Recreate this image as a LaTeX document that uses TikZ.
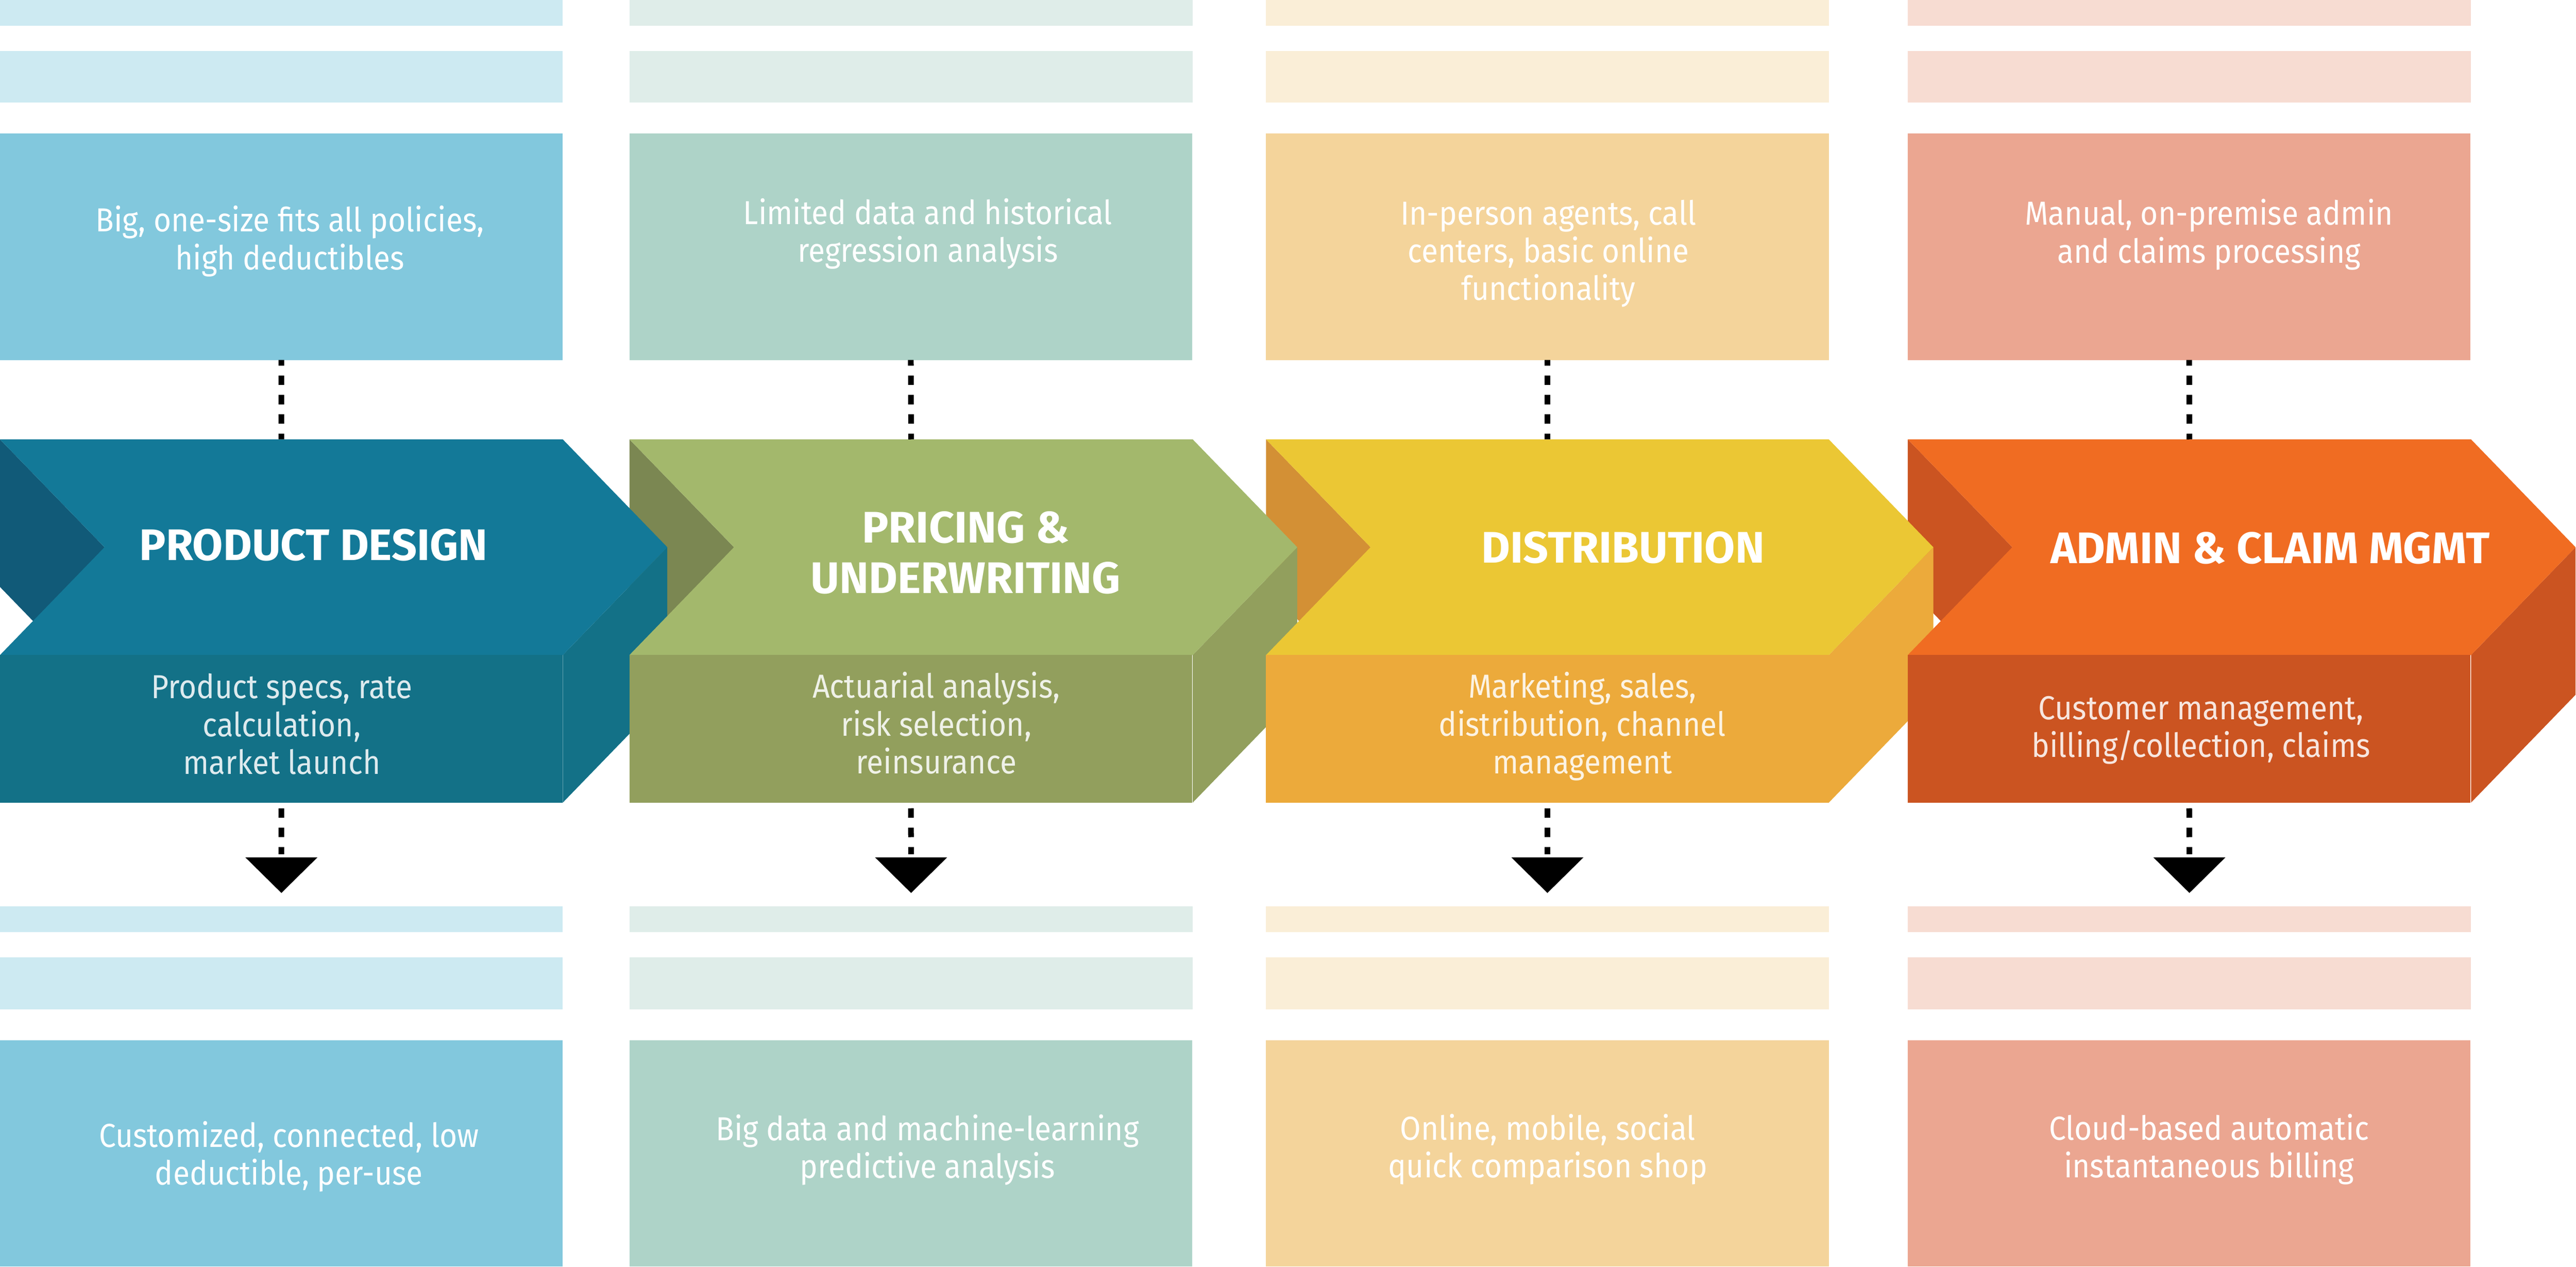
\documentclass[tikz,border=0pt]{standalone}
\usepackage{fontspec}
\setmainfont{Fira Sans}[FakeStretch=0.91]
\newfontfamily\headfont{Fira Sans}
\usepackage{tikz}

\definecolor{tealTop}{HTML}{137998}
\definecolor{tealFront}{HTML}{137187}
\definecolor{tealWall}{HTML}{115A78}
\definecolor{tealBox}{HTML}{82C8DD}
\definecolor{tealPale}{HTML}{CDEAF2}
\definecolor{greenTop}{HTML}{A3B86C}
\definecolor{greenFront}{HTML}{929F5D}
\definecolor{greenWall}{HTML}{7B8752}
\definecolor{greenBox}{HTML}{AED3C8}
\definecolor{greenPale}{HTML}{DFEDE9}
\definecolor{yellowTop}{HTML}{EBC734}
\definecolor{yellowFront}{HTML}{ECAA3B}
\definecolor{yellowWall}{HTML}{D39035}
\definecolor{yellowBox}{HTML}{F4D49B}
\definecolor{yellowPale}{HTML}{FAEED7}
\definecolor{orangeTop}{HTML}{F06C22}
\definecolor{orangeFront}{HTML}{CB5421}
\definecolor{orangeBox}{HTML}{EBA691}
\definecolor{orangePale}{HTML}{F7DCD2}

\tikzset{
  panel/.style={inner sep=0pt, outer sep=0pt, minimum width=11.9cm, anchor=south west},
  boxtext/.style={font=\fontsize{20pt}{22.76pt}\selectfont, text=white,
    align=center, inner sep=0pt, anchor=base},
  fronttext/.style={boxtext, text opacity=0.86},
  titletext/.style={font=\headfont\fontsize{26.6pt}{30.16pt}\selectfont\bfseries, text=white,
    align=center, inner sep=0pt, anchor=base},
  dotline/.style={line width=0.12cm, dash pattern=on 0.2cm off 0.21cm},
}

\begin{document}
\begin{tikzpicture}

    \useasboundingbox (0,0) rectangle (54.47,26.78);

    % pale bands and boxes, top row
    \fill [tealPale] (0,26.24) rectangle (11.90,26.78);
    \fill [tealPale] (0,24.61) rectangle (11.90,25.70);
    \fill [greenPale] (13.31,26.24) rectangle (25.22,26.78);
    \fill [greenPale] (13.31,24.61) rectangle (25.22,25.70);
    \fill [yellowPale] (26.77,26.24) rectangle (38.67,26.78);
    \fill [yellowPale] (26.77,24.61) rectangle (38.67,25.70);
    \fill [orangePale] (40.34,26.24) rectangle (52.25,26.78);
    \fill [orangePale] (40.34,24.61) rectangle (52.25,25.70);

    \node [panel, fill=tealBox, minimum height=4.79cm] (old1) at (0,19.17) {};
    \node [panel, fill=greenBox, minimum height=4.79cm] (old2) at (13.31,19.17) {};
    \node [panel, fill=yellowBox, minimum height=4.79cm] (old3) at (26.77,19.17) {};
    \node [panel, fill=orangeBox, minimum height=4.79cm] (old4) at (40.34,19.17) {};

    % pale bands and boxes, bottom row
    \fill [tealPale] (0,7.07) rectangle (11.90,7.62);
    \fill [tealPale] (0,5.44) rectangle (11.90,6.54);
    \fill [greenPale] (13.31,7.07) rectangle (25.22,7.62);
    \fill [greenPale] (13.31,5.44) rectangle (25.22,6.54);
    \fill [yellowPale] (26.77,7.07) rectangle (38.67,7.62);
    \fill [yellowPale] (26.77,5.44) rectangle (38.67,6.54);
    \fill [orangePale] (40.34,7.07) rectangle (52.25,7.62);
    \fill [orangePale] (40.34,5.44) rectangle (52.25,6.54);

    \node [panel, fill=tealBox, minimum height=4.79cm] (new1) at (0,0) {};
    \node [panel, fill=greenBox, minimum height=4.79cm] (new2) at (13.31,0) {};
    \node [panel, fill=yellowBox, minimum height=4.79cm] (new3) at (26.77,0) {};
    \node [panel, fill=orangeBox, minimum height=4.79cm] (new4) at (40.34,0) {};

    % inner walls of the notches
    \fill [tealWall] (0,17.49) -- (2.21,15.21) -- (2.21,12.09) -- (0,14.37) -- cycle;
    \fill [greenWall] (13.31,17.49) -- (15.52,15.21) -- (15.52,12.09) -- (13.31,14.37) -- cycle;
    \fill [yellowWall] (26.77,17.49) -- (28.98,15.21) -- (28.98,12.09) -- (26.77,14.37) -- cycle;
    \fill [orangeFront] (40.34,17.49) -- (42.55,15.21) -- (42.55,12.09) -- (40.34,14.37) -- cycle;

    % side faces
    \fill [tealFront] (11.90,12.93) -- (14.11,15.21) -- (14.11,12.09) -- (11.90,9.81) -- cycle;
    \fill [greenFront] (25.22,12.93) -- (27.43,15.21) -- (27.43,12.09) -- (25.22,9.81) -- cycle;
    \fill [yellowFront] (38.67,12.93) -- (40.88,15.21) -- (40.88,12.09) -- (38.67,9.81) -- cycle;
    \fill [orangeFront] (52.25,12.93) -- (54.46,15.21) -- (54.46,12.09) -- (52.25,9.81) -- cycle;

    % chevron tops and fronts
    \fill [tealTop] (0,17.49) -- (11.90,17.49) -- (14.11,15.21) -- (11.90,12.93)
        -- (0,12.93) -- (2.21,15.21) -- cycle;
    \fill [greenTop] (13.31,17.49) -- (25.22,17.49) -- (27.43,15.21) -- (25.22,12.93)
        -- (13.31,12.93) -- (15.52,15.21) -- cycle;
    \fill [yellowTop] (26.77,17.49) -- (38.67,17.49) -- (40.88,15.21) -- (38.67,12.93)
        -- (26.77,12.93) -- (28.98,15.21) -- cycle;
    \fill [orangeTop] (40.34,17.49) -- (52.25,17.49) -- (54.46,15.21) -- (52.25,12.93)
        -- (40.34,12.93) -- (42.55,15.21) -- cycle;

    \node [panel, fill=tealFront, minimum height=3.12cm] (step1) at (0,9.81) {};
    \node [panel, fill=greenFront, minimum height=3.12cm] (step2) at (13.31,9.81) {};
    \node [panel, fill=yellowFront, minimum height=3.12cm] (step3) at (26.77,9.81) {};
    \node [panel, fill=orangeFront, minimum height=3.12cm] (step4) at (40.34,9.81) {};

    \coordinate (head1) at (5.95,17.49);
    \coordinate (head2) at (19.265,17.49);
    \coordinate (head3) at (32.72,17.49);
    \coordinate (head4) at (46.295,17.49);

    % texts (base = last line)
    \node [boxtext] (oldtxt1) at (6.13,21.08) {Big, one-size fits all policies,\\high deductibles};
    \node [boxtext] (oldtxt2) at (19.62,21.24) {Limited data and historical\\regression analysis};
    \node [boxtext] (oldtxt3) at (32.74,20.43) {In-person agents, call\\centers, basic online\\functionality};
    \node [boxtext] (oldtxt4) at (46.71,21.22) {Manual, on-premise admin\\and claims processing};

    \node [titletext] (name1) at (6.63,14.93) {PRODUCT DESIGN};
    \node [titletext] (name2) at (20.42,14.24) {PRICING \&\\UNDERWRITING};
    \node [titletext] (name3) at (34.32,14.88) {DISTRIBUTION};
    \node [titletext] (name4) at (48.00,14.87) {ADMIN \& CLAIM MGMT};

    \node [fronttext] (task1) at (5.96,10.41) {Product specs, rate\\calculation,\\market launch};
    \node [fronttext] (task2) at (19.80,10.42) {Actuarial analysis,\\risk selection,\\reinsurance};
    \node [fronttext] (task3) at (33.46,10.42) {Marketing, sales,\\distribution, channel\\management};
    \node [fronttext] (task4) at (46.54,10.77) {Customer management,\\billing/collection, claims};

    \node [boxtext] (newtxt1) at (6.11,1.73) {Customized, connected, low\\deductible, per-use};
    \node [boxtext] (newtxt2) at (19.61,1.87) {Big data and machine-learning\\predictive analysis};
    \node [boxtext] (newtxt3) at (32.73,1.88) {Online, mobile, social\\quick comparison shop};
    \node [boxtext] (newtxt4) at (46.71,1.88) {Cloud-based automatic\\instantaneous billing};

    % dotted links
    \draw [dotline, dash phase=0.08cm] (old1.south) -- (head1);
    \draw [dotline, dash phase=0.08cm] (old2.south) -- (head2);
    \draw [dotline, dash phase=0.08cm] (old3.south) -- (head3);
    \draw [dotline, dash phase=0.08cm] (old4.south) -- (head4);

    \coordinate (end1) at (5.95,8.72);
    \coordinate (end2) at (19.265,8.72);
    \coordinate (end3) at (32.72,8.72);
    \coordinate (end4) at (46.295,8.72);
    \draw [dotline, dash phase=0.29cm] (step1.south) -- (end1);
    \draw [dotline, dash phase=0.29cm] (step2.south) -- (end2);
    \draw [dotline, dash phase=0.29cm] (step3.south) -- (end3);
    \draw [dotline, dash phase=0.29cm] (step4.south) -- (end4);

    \coordinate (tip1) at (5.95,7.90);
    \coordinate (tip2) at (19.265,7.90);
    \coordinate (tip3) at (32.72,7.90);
    \coordinate (tip4) at (46.295,7.90);
    \fill (tip1) -- ++(-0.76,0.75) -- ++(1.52,0) -- cycle;
    \fill (tip2) -- ++(-0.76,0.75) -- ++(1.52,0) -- cycle;
    \fill (tip3) -- ++(-0.76,0.75) -- ++(1.52,0) -- cycle;
    \fill (tip4) -- ++(-0.76,0.75) -- ++(1.52,0) -- cycle;

\end{tikzpicture}
\end{document}
